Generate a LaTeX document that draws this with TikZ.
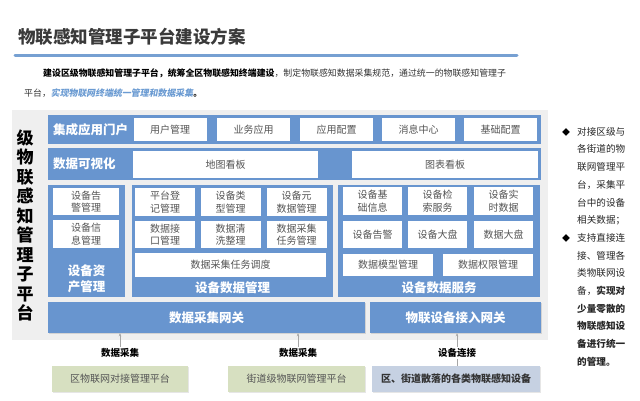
\documentclass[tikz,border=0pt]{standalone}
\usepackage{fontspec}
\setmainfont{Noto Sans CJK SC}
\newfontfamily\slantfont[FakeSlant=0.18]{Noto Sans CJK SC}
\usetikzlibrary{arrows.meta,shadows}
\definecolor{barblue}{RGB}{104,149,207}
\definecolor{ruleblue}{RGB}{118,160,210}
\definecolor{panelgray}{RGB}{239,239,239}
\definecolor{boxtext}{RGB}{85,85,85}
\definecolor{titlegray}{RGB}{58,58,58}
\definecolor{srcgreen}{RGB}{215,224,193}
\definecolor{srcblue}{RGB}{198,209,226}
\definecolor{linkblue}{RGB}{107,155,210}
\begin{document}
\begin{tikzpicture}[x=1pt,y=-1pt,
  bar/.style={fill=barblue,inner sep=0pt},
  wbox/.style={fill=white,text=boxtext,inner sep=0pt,align=center,font=\fontsize{10}{12.5}\selectfont},
  head/.style={text=white,inner sep=0pt,align=center,font=\bfseries\fontsize{12.5}{16}\selectfont},
  gate/.style={bar,drop shadow={shadow xshift=0.8pt,shadow yshift=-1.2pt,opacity=0.25}},
  src/.style={inner sep=0pt,minimum height=26pt,text=boxtext,font=\fontsize{10}{12}\selectfont,
    drop shadow={shadow xshift=0.8pt,shadow yshift=-1.2pt,opacity=0.2}},
  tag/.style={fill=white,inner sep=1.5pt,font=\bfseries\fontsize{9.5}{11}\selectfont},
  note/.style={inner sep=0pt,align=left,text=black!85,font=\fontsize{9.6}{17.7}\selectfont},
  flow/.style={-{Stealth[length=3pt,width=2.5pt]},draw=gray!70,line width=0.5pt}]
\useasboundingbox (0,0) rectangle (640,400);

\node[anchor=west,inner sep=0pt,text=titlegray,font=\bfseries\fontsize{17.5}{20}\selectfont] (title) at (18,37) {物联感知管理子平台建设方案};
\draw[ruleblue,line width=3pt,line cap=round] (15,55) -- (517,55);
\node[anchor=west,inner sep=0pt,text=black!80,font=\fontsize{8.9}{11}\selectfont] (intro1) at (43,73)
  {\textbf{\color{black}建设区级物联感知管理子平台，统筹全区物联感知终端建设}，制定物联感知数据采集规范，通过统一的物联感知管理子};
\node[anchor=west,inner sep=0pt,text=black!80,font=\fontsize{8.9}{11}\selectfont] (intro2) at (24,93)
  {平台，{\slantfont\bfseries\color{linkblue}实现物联网终端统一管理和数据采集}\textbf{\color{black}。}};

\fill[panelgray] (12,110) rectangle (548,340);
\node[inner sep=0pt,align=center,font=\bfseries\fontsize{17}{19.5}\selectfont] (side) at (25,225.5)
  {级\\物\\联\\感\\知\\管\\理\\子\\平\\台};

\node[bar,minimum width=493pt,minimum height=29pt] (portal) at (294.5,129.5) {};
\node[head,anchor=west] (portalhd) at (53,129.5) {集成应用门户};
\node[wbox,minimum width=73pt,minimum height=23pt] (app1) at (170,129.5) {用户管理};
\node[wbox,minimum width=73pt,minimum height=23pt] (app2) at (253.5,129.5) {业务应用};
\node[wbox,minimum width=73pt,minimum height=23pt] (app3) at (336.5,129.5) {应用配置};
\node[wbox,minimum width=73pt,minimum height=23pt] (app4) at (418.5,129.5) {消息中心};
\node[wbox,minimum width=73pt,minimum height=23pt] (app5) at (500.5,129.5) {基础配置};

\node[bar,minimum width=493pt,minimum height=32pt] (vis) at (294.5,164) {};
\node[head,anchor=west] (vishd) at (53,164) {数据可视化};
\node[wbox,minimum width=185pt,minimum height=27pt] (map) at (225.5,164.5) {地图看板};
\node[wbox,minimum width=186pt,minimum height=27pt] (chart) at (445,164.5) {图表看板};

\node[bar,minimum width=77pt,minimum height=112pt] (asset) at (86.5,241) {};
\node[wbox,minimum width=66pt,minimum height=27pt] (asset1) at (86,201.5) {设备告\\警管理};
\node[wbox,minimum width=66pt,minimum height=28pt] (asset2) at (86,234) {设备信\\息管理};
\node[head] (assethd) at (86.5,279) {设备资\\产管理};

\node[bar,minimum width=201pt,minimum height=112pt] (dm) at (232.5,241) {};
\node[wbox,minimum width=60pt,minimum height=28pt] (dm1) at (165,202) {平台登\\记管理};
\node[wbox,minimum width=60pt,minimum height=28pt] (dm2) at (230.5,202) {设备类\\型管理};
\node[wbox,minimum width=60pt,minimum height=28pt] (dm3) at (296.5,202) {设备元\\数据管理};
\node[wbox,minimum width=60pt,minimum height=27pt] (dm4) at (165,234.5) {数据接\\口管理};
\node[wbox,minimum width=60pt,minimum height=27pt] (dm5) at (230.5,234.5) {数据清\\洗整理};
\node[wbox,minimum width=60pt,minimum height=27pt] (dm6) at (296.5,234.5) {数据采集\\任务管理};
\node[wbox,minimum width=191pt,minimum height=24pt] (dm7) at (230.5,265) {数据采集任务调度};
\node[head] (dmhd) at (232.5,288) {设备数据管理};

\node[bar,minimum width=202pt,minimum height=112pt] (ds) at (439,241) {};
\node[wbox,minimum width=59pt,minimum height=28pt] (ds1) at (372.5,201) {设备基\\础信息};
\node[wbox,minimum width=59pt,minimum height=28pt] (ds2) at (437.5,201) {设备检\\索服务};
\node[wbox,minimum width=59pt,minimum height=28pt] (ds3) at (503.5,201) {设备实\\时数据};
\node[wbox,minimum width=59pt,minimum height=27pt] (ds4) at (372.5,234.5) {设备告警};
\node[wbox,minimum width=59pt,minimum height=27pt] (ds5) at (437.5,234.5) {设备大盘};
\node[wbox,minimum width=59pt,minimum height=27pt] (ds6) at (503.5,234.5) {数据大盘};
\node[wbox,minimum width=90pt,minimum height=22pt] (ds7) at (388,265) {数据模型管理};
\node[wbox,minimum width=90pt,minimum height=22pt] (ds8) at (488,265) {数据权限管理};
\node[head] (dshd) at (439,288) {设备数据服务};

\node[gate,head,minimum width=317pt,minimum height=31pt] (gwA) at (206.5,317.5) {数据采集网关};
\node[gate,head,minimum width=171pt,minimum height=31pt] (gwB) at (455.5,317.5) {物联设备接入网关};

\node[src,fill=srcgreen,minimum width=136pt] (src1) at (120,379) {区物联网对接管理平台};
\node[src,fill=srcgreen,minimum width=137pt] (src2) at (296.5,379) {街道级物联网管理平台};
\node[src,fill=srcblue,minimum width=168pt,text=black!80,font=\bfseries\fontsize{10}{12}\selectfont] (src3) at (456,379) {区、街道散落的各类物联感知设备};
\node[tag] (tag1) at (120,353) {数据采集};
\node[tag] (tag2) at (298,353) {数据采集};
\node[tag] (tag3) at (457,353) {设备连接};
\draw[flow] (tag1.north) -- (tag1.north |- gwA.south);
\draw[flow] (tag2.north) -- (tag2.north |- gwA.south);
\draw[flow] (tag3.north) -- (tag3.north |- gwB.south);
\draw[draw=gray!70,line width=0.5pt] (src3.north -| tag3.south) -- (tag3.south);

\node[inner sep=0pt,font=\fontsize{8}{10}\selectfont] (mark1) at (566,132) {◆};
\node[inner sep=0pt,font=\fontsize{8}{10}\selectfont] (mark2) at (566,238.2) {◆};
\node[note,anchor=north west] (notes) at (577,127)
  {对接区级与\\各街道的物\\联网管理平\\台，采集平\\台中的设备\\相关数据；\\支持直接连\\接、管理各\\类物联网设\\备，\textbf{实现对}\\\textbf{少量零散的}\\\textbf{物联感知设}\\\textbf{备进行统一}\\\textbf{的管理。}};
\end{tikzpicture}
\end{document}
